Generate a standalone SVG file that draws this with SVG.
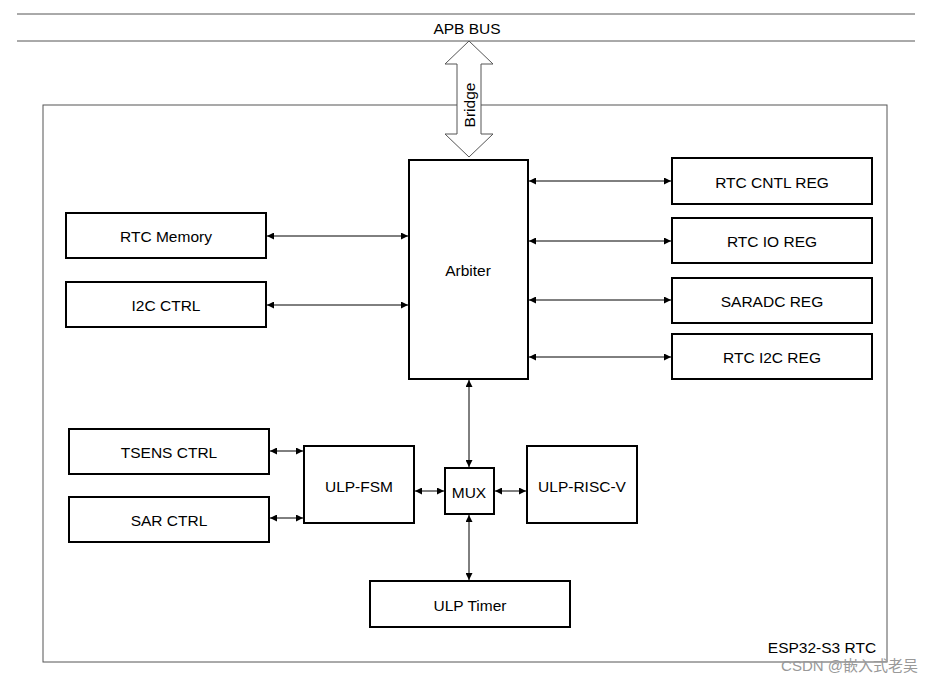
<svg xmlns="http://www.w3.org/2000/svg" width="933" height="684" viewBox="0 0 933 684">
<style>
.b{fill:#fff;stroke:#000;stroke-width:2}
.t{font-family:"Liberation Sans",Arial,sans-serif;font-size:15.5px;text-anchor:middle;dominant-baseline:central;fill:#000}
.c{stroke:#000;stroke-width:1;fill:none;marker-start:url(#a);marker-end:url(#a)}
</style>
<defs><marker id="a" viewBox="0 0 8 8" refX="8" refY="4" markerWidth="7" markerHeight="7" orient="auto-start-reverse" markerUnits="userSpaceOnUse"><path d="M0,0L8,4L0,8z" fill="#000"/></marker></defs>
<rect width="933" height="684" fill="#fff"/>
<g id="bus"><line x1="17" y1="14" x2="915" y2="14" stroke="#555"/><line x1="17" y1="41" x2="915" y2="41" stroke="#555"/><text class="t" x="467" y="28">APB BUS</text></g>
<g id="rtc"><rect x="43" y="105" width="844" height="557" fill="none" stroke="#555"/><text class="t" x="822" y="647">ESP32-S3 RTC</text></g>
<g id="bridge"><path d="M469,41L493,64H481V134H493L469,157L445,134H457V64H445Z" fill="#fff" stroke="#555"/><text class="t" transform="translate(469,105) rotate(-90)">Bridge</text></g>
<g id="arbiter"><rect class="b" x="409" y="160" width="119" height="219"/><text class="t" x="468" y="270">Arbiter</text></g>
<g id="rtcmem"><rect class="b" x="66" y="213" width="200" height="45"/><text class="t" x="166" y="236">RTC Memory</text></g>
<g id="i2c"><rect class="b" x="66" y="282" width="200" height="45"/><text class="t" x="166" y="305">I2C CTRL</text></g>
<g id="cntl"><rect class="b" x="672" y="158" width="200" height="46"/><text class="t" x="772" y="182">RTC CNTL REG</text></g>
<g id="io"><rect class="b" x="672" y="218" width="200" height="45"/><text class="t" x="772" y="241">RTC IO REG</text></g>
<g id="saradc"><rect class="b" x="672" y="278" width="200" height="45"/><text class="t" x="772" y="301">SARADC REG</text></g>
<g id="rtci2c"><rect class="b" x="672" y="334" width="200" height="45"/><text class="t" x="772" y="357">RTC I2C REG</text></g>
<g id="tsens"><rect class="b" x="69" y="429" width="200" height="45"/><text class="t" x="169" y="452">TSENS CTRL</text></g>
<g id="sar"><rect class="b" x="69" y="497" width="200" height="45"/><text class="t" x="169" y="520">SAR CTRL</text></g>
<g id="fsm"><rect class="b" x="304" y="446" width="110" height="77"/><text class="t" x="359" y="486">ULP-FSM</text></g>
<g id="mux"><rect class="b" x="445" y="468" width="49" height="46"/><text class="t" x="469" y="492">MUX</text></g>
<g id="riscv"><rect class="b" x="527" y="446" width="110" height="77"/><text class="t" x="582" y="486">ULP-RISC-V</text></g>
<g id="timer"><rect class="b" x="370" y="581" width="200" height="46"/><text class="t" x="470" y="605">ULP Timer</text></g>
<g id="connectors">
<line class="c" x1="267" y1="236" x2="408" y2="236"/>
<line class="c" x1="267" y1="305" x2="408" y2="305"/>
<line class="c" x1="529" y1="181" x2="671" y2="181"/>
<line class="c" x1="529" y1="241" x2="671" y2="241"/>
<line class="c" x1="529" y1="300" x2="671" y2="300"/>
<line class="c" x1="529" y1="357" x2="671" y2="357"/>
<line class="c" x1="270" y1="451" x2="303" y2="451"/>
<line class="c" x1="270" y1="518" x2="303" y2="518"/>
<line class="c" x1="415" y1="491" x2="444" y2="491"/>
<line class="c" x1="495" y1="491" x2="526" y2="491"/>
<line class="c" x1="469" y1="380" x2="469" y2="467"/>
<line class="c" x1="469" y1="515" x2="469" y2="580"/>
</g>
<text x="918" y="671" style="font-family:'Liberation Sans','Noto Sans CJK SC',sans-serif;font-size:15px;text-anchor:end;fill:#999">CSDN @嵌入式老吴</text>
</svg>
